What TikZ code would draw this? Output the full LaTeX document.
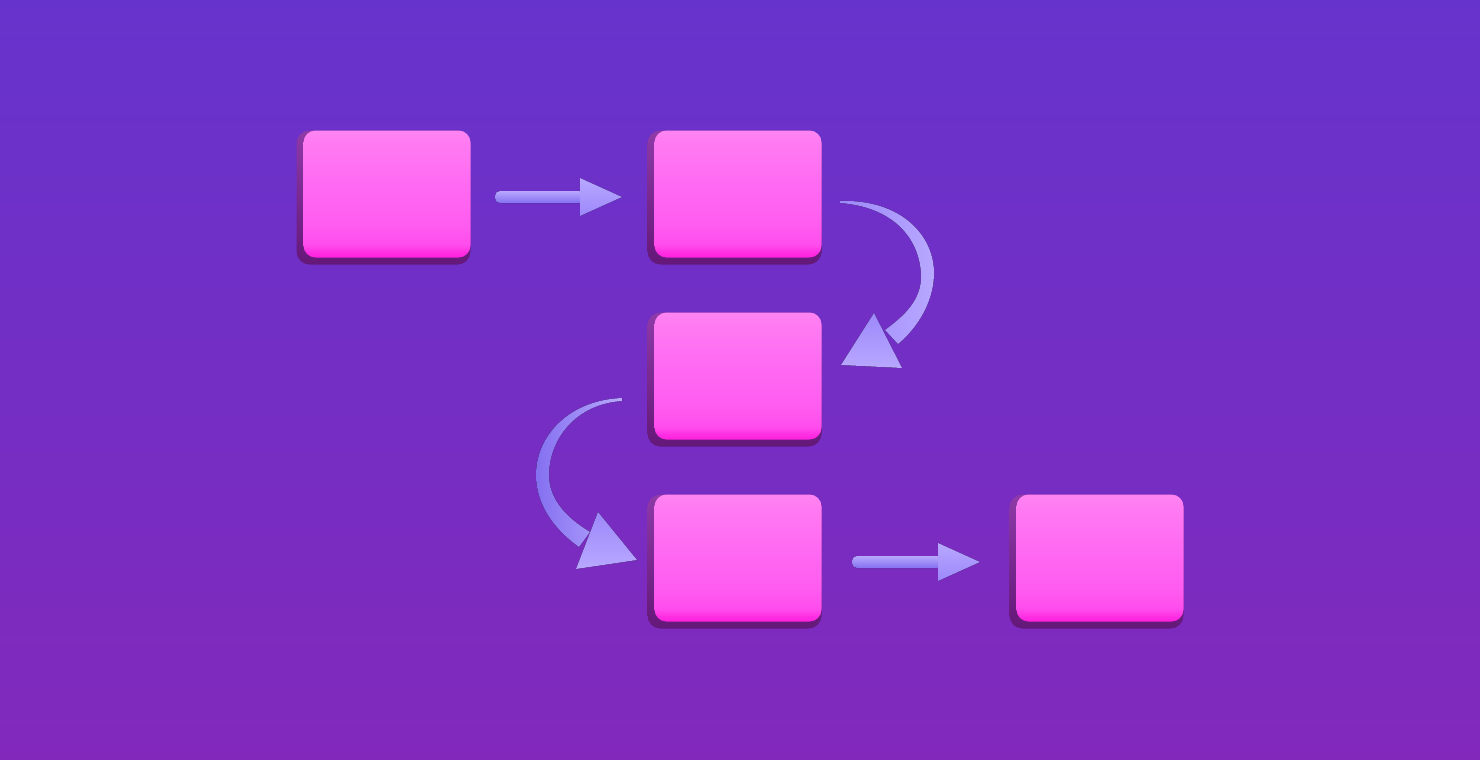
\documentclass[tikz,border=0pt]{standalone}
\usetikzlibrary{calc}
\definecolor{bgtop}{HTML}{6633CC}
\definecolor{bgbot}{HTML}{8229BC}
\definecolor{shdtop}{HTML}{8E3AA8}
\definecolor{shdbot}{HTML}{641878}
\definecolor{arlight}{HTML}{B8A8FF}
\definecolor{armid}{HTML}{9C88FA}
\definecolor{ardark}{HTML}{8470F0}
\pgfdeclareverticalshading{facesh}{100bp}{%
  rgb(0bp)=(1,0.13,0.86); rgb(25bp)=(1,0.13,0.86); rgb(27bp)=(1,0.18,0.89); rgb(30bp)=(1,0.30,0.93);
  rgb(38bp)=(1,0.36,0.94); rgb(55bp)=(1,0.42,0.95); rgb(70bp)=(1,0.48,0.95); rgb(75bp)=(1,0.52,0.95); rgb(100bp)=(1,0.52,0.95)}
\tikzset{
  boxshadow/.style={rectangle, rounded corners=13pt, minimum width=174pt, minimum height=134pt,
    inner sep=0pt, top color=shdtop, bottom color=shdbot},
  boxface/.style={rectangle, rounded corners=12pt, minimum width=167pt, minimum height=127pt,
    inner sep=0pt, shading=facesh},
  arrowbody/.style={top color=arlight, bottom color=ardark},
  arrowhead/.style={top color=arlight, bottom color=armid},
}
\begin{document}
\begin{tikzpicture}[x=1pt,y=-1pt]
\useasboundingbox (0,0) rectangle (1480,760);
\shade[top color=bgtop, bottom color=bgbot] (0,0) rectangle (1480,760);
% boxes
\foreach \n/\cx/\cy in {1/383.5/197.5, 2/734.5/197.5, 3/734.5/379.5, 4/734.5/561.5, 5/1096.5/561.5}{
  \node[boxshadow] (s\n) at (\cx,\cy) {};
  \node[boxface] (b\n) at (\cx+3.5,\cy-3.5) {};
}
% straight arrow 1
\fill[arrowbody, rounded corners=5pt] (495,191) rectangle (584,203);
\fill[arrowhead] (580,178) -- (622,197) -- (580,216) -- cycle;
% straight arrow 2
\fill[arrowbody, rounded corners=5pt] (852,556) rectangle (942,568);
\fill[arrowhead] (938,543) -- (980,562) -- (938,581) -- cycle;
% curved arrow 1
\fill[left color=armid, right color=arlight]
  (840,201) .. controls (900,199) and (935,235) .. (934,275)
  .. controls (933,305) and (915,330) .. (898,344)
  -- (885,330)
  .. controls (904,316) and (922,300) .. (921,275)
  .. controls (920,240) and (895,207) .. (840,203) -- cycle;
\fill[top color=armid, bottom color=arlight] (874,313) -- (841,365) -- (902,368) -- cycle;
% curved arrow 2
\fill[left color=ardark, right color=arlight]
  (622,398) .. controls (570,400) and (536,435) .. (536,475)
  .. controls (536,505) and (555,530) .. (579,547)
  -- (590,532)
  .. controls (567,518) and (549,500) .. (549,475)
  .. controls (549,440) and (575,404) .. (622,401) -- cycle;
\fill[top color=armid, bottom color=arlight] (598,512) -- (576,569) -- (637,560) -- cycle;
\end{tikzpicture}
\end{document}
